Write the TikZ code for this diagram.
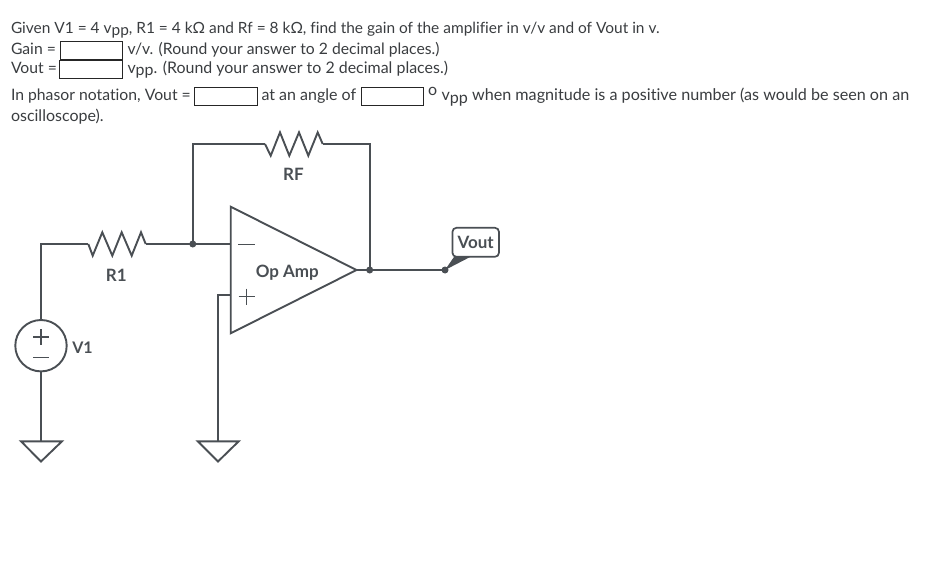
\documentclass[tikz,border=0pt]{standalone}
\usepackage{fontspec}
\setmainfont{Lato}[Ligatures=NoCommon]
\newcommand{\vpp}{v\raisebox{-2.6pt}{pp}}
\definecolor{ink}{HTML}{3A3D40}
\definecolor{wire}{HTML}{4A4F54}
\tikzset{
  txt/.style={anchor=base west,inner sep=0pt,outer sep=0pt,text=ink,font=\fontsize{#1}{18}\selectfont},
  txt/.default=16,
  ansbox/.style={draw=black!85,line width=0.9pt,fill=white,inner sep=0pt,outer sep=0pt},
  wired/.style={draw=wire,line width=1.9pt,line join=miter},
  clabel/.style={inner sep=0pt,text=wire,font=\fontsize{17}{18}\selectfont\bfseries},
  dotj/.style={fill=wire,draw=none,circle,minimum size=7pt,inner sep=0pt,outer sep=0pt},
  probebox/.style={draw=wire,line width=1.7pt,rounded corners=4pt,fill=white,minimum width=46.5pt,minimum height=29pt,inner sep=0pt,outer sep=0pt,text=wire,font=\fontsize{17}{18}\selectfont\bfseries},
  srcnode/.style={draw=wire,line width=1.9pt,circle,minimum size=51.4pt,inner sep=0pt,outer sep=0pt}
}
\begin{document}
\begin{tikzpicture}[x=1pt,y=-1pt]
\useasboundingbox (0,0) rectangle (934,567);
\fill[white] (0,0) rectangle (934,567);
% question text
\node[txt=15.45] (q1) at (11,33.3) {Given V1 = 4 \vpp, R1 = 4 kΩ and Rf = 8 kΩ, find the gain of the amplifier in v/v and of Vout in v.};
\node[txt=15.7] (gl) at (11,54.5) {Gain =};
\node[ansbox,minimum width=62.7pt,minimum height=17.6pt] (gb) at (91.3,50.5) {};
\node[txt=15.7] (gt) at (127.5,54.5) {v/v. (Round your answer to 2 decimal places.)};
\node[txt=15.7] (vl) at (11,73.3) {Vout =};
\node[ansbox,minimum width=63.4pt,minimum height=17.6pt] (vb) at (91,69.5) {};
\node[txt=15.95] (vt) at (127.5,73.3) {\vpp. (Round your answer to 2 decimal places.)};
\node[txt=15.75] (pl) at (11,100.5) {In phasor notation, Vout =};
\node[ansbox,minimum width=62.7pt,minimum height=18.4pt] (pb) at (225.7,96.5) {};
\node[txt=16] (pm) at (261.5,100.5) {at an angle of};
\node[ansbox,minimum width=62pt,minimum height=18.4pt] (ab) at (392.7,96.5) {};
\node[txt=16] (pd) at (428,96) {o};
\node[txt=16.15] (pv) at (441.5,100.5) {\vpp{} when magnitude is a positive number (as would be seen on an};
\node[txt=16] (ol) at (11,121.5) {oscilloscope).};
% connection points
\coordinate (J1) at (192.8,244);
\coordinate (J2) at (369.7,270);
\coordinate (P) at (445,270);
\coordinate (TL) at (192.8,144);
\coordinate (TR) at (369.7,144);
\coordinate (RFa) at (265,144);
\coordinate (RFb) at (322.7,144);
\coordinate (R1a) at (88.3,244);
\coordinate (R1b) at (145.7,244);
\coordinate (C1) at (41,244);
\coordinate (InM) at (230.7,244);
\coordinate (InP) at (230.7,295);
\coordinate (C2) at (218,295);
\coordinate (G1) at (41,441.3);
\coordinate (G2) at (218,441.3);
\coordinate (OA1) at (230.7,206.7);
\coordinate (OA2) at (230.7,333.3);
\coordinate (OA3) at (356.5,270);
% source
\node[srcnode] (V) at (41,345.7) {};
% wires
\draw[wired] (R1b) -- (J1) -- (InM);
\draw[wired] (V.north) -- (C1) -- (R1a);
\draw[wired] (V.south) -- (G1);
\draw[wired] (J1) -- (TL) -- (RFa);
\draw[wired] (RFb) -- (TR) -- (J2);
\draw[wired] (OA3) -- (J2) -- (P);
\draw[wired] (InP) -- (C2) -- (G2);
% resistors
\draw[wired] (RFa) -- ++(5.7,11.7) -- ++(9.3,-23.3) -- ++(9.3,23.3) -- ++(9.7,-23.3) -- ++(9.3,23.3) -- ++(9.4,-23.3) -- (RFb);
\draw[wired] (R1a) -- ++(4.4,11.7) -- ++(9.6,-23.4) -- ++(10,23.4) -- ++(9.4,-23.4) -- ++(10,23.4) -- ++(9.3,-23.4) -- (R1b);
% op amp
\draw[wired] (OA1) -- (OA2) -- (OA3) -- cycle;
\draw[wired,line width=1.5pt] (238,244.7) -- (255,244.7);
\draw[wired,line width=1.5pt] (238.7,296.7) -- (254.7,296.7) (246.7,288.7) -- (246.7,304.7);
% source signs
\draw[wired,line width=1.5pt] (33,337) -- (49,337) (41,329) -- (41,345);
\draw[wired,line width=1.5pt] (33,357.5) -- (49,357.5);
% grounds
\draw[wired] (21,441.3) -- (62,441.3) -- (41,461.5) -- cycle;
\draw[wired] (197.7,441.3) -- (238.7,441.3) -- (218,461.5) -- cycle;
% dots
\node[dotj] (d1) at (J1) {};
\node[dotj] (d2) at (J2) {};
\node[dotj] (d3) at (P) {};
% probe
\fill[wire] (P) -- (455,255.5) -- (473,255.5) -- cycle;
\node[probebox] (VoutL) at (475.7,242.3) {Vout};
% labels
\node[clabel] (RF) at (293.5,174.5) {RF};
\node[clabel] (OpAmp) at (287.3,272.5) {Op Amp};
\node[clabel] (R1) at (116.3,275.5) {R1};
\node[clabel,font=\fontsize{16}{18}\selectfont\bfseries] (V1) at (82.5,347.5) {V1};
\end{tikzpicture}
\end{document}
